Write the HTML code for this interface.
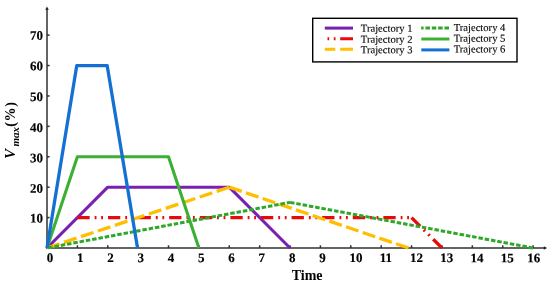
<!DOCTYPE html>
<html><head><meta charset="utf-8"><title>Trajectories</title>
<style>html,body{margin:0;padding:0;background:#fff}svg{display:block}text{font-family:"Liberation Serif","Times New Roman",serif;fill:#000}</style></head><body>
<svg width="550" height="286" viewBox="0 0 550 286">
<rect width="550" height="286" fill="#fff"/>
<g stroke="#303030" stroke-width="1.5" fill="none">
<line x1="47.0" y1="248.7" x2="47.0" y2="9"/>
<line x1="46.3" y1="248.0" x2="544" y2="248.0"/>
<line x1="77.38" y1="248.0" x2="77.38" y2="245.3"/>
<line x1="107.76" y1="248.0" x2="107.76" y2="245.3"/>
<line x1="138.14" y1="248.0" x2="138.14" y2="245.3"/>
<line x1="168.52" y1="248.0" x2="168.52" y2="245.3"/>
<line x1="198.90" y1="248.0" x2="198.90" y2="245.3"/>
<line x1="229.28" y1="248.0" x2="229.28" y2="245.3"/>
<line x1="259.66" y1="248.0" x2="259.66" y2="245.3"/>
<line x1="290.04" y1="248.0" x2="290.04" y2="245.3"/>
<line x1="320.42" y1="248.0" x2="320.42" y2="245.3"/>
<line x1="350.80" y1="248.0" x2="350.80" y2="245.3"/>
<line x1="381.18" y1="248.0" x2="381.18" y2="245.3"/>
<line x1="411.56" y1="248.0" x2="411.56" y2="245.3"/>
<line x1="441.94" y1="248.0" x2="441.94" y2="245.3"/>
<line x1="472.32" y1="248.0" x2="472.32" y2="245.3"/>
<line x1="502.70" y1="248.0" x2="502.70" y2="245.3"/>
<line x1="533.08" y1="248.0" x2="533.08" y2="245.3"/>
<line x1="47.0" y1="217.59" x2="49.6" y2="217.59"/>
<line x1="47.0" y1="187.18" x2="49.6" y2="187.18"/>
<line x1="47.0" y1="156.77" x2="49.6" y2="156.77"/>
<line x1="47.0" y1="126.36" x2="49.6" y2="126.36"/>
<line x1="47.0" y1="95.95" x2="49.6" y2="95.95"/>
<line x1="47.0" y1="65.54" x2="49.6" y2="65.54"/>
<line x1="47.0" y1="35.13" x2="49.6" y2="35.13"/>
</g>
<path d="M47.0 6.5 L45.2 9.8 L48.8 9.8 Z" fill="#222"/>
<path d="M547.2 248.0 L543.8 246.2 L543.8 249.8 Z" fill="#222"/>
<polyline points="47.00,248.00 107.76,187.18 229.28,187.18 290.04,248.00" fill="none" stroke="#7a1fb0" stroke-width="3.05" stroke-linejoin="round"/>
<polyline points="77.38,217.59 411.56,217.59" fill="none" stroke="#e60a0a" stroke-width="3.3" stroke-dasharray="12.3 5 1.8 4.7 1.8 5"/>
<polyline points="411.56,217.59 441.94,248.00" fill="none" stroke="#e60a0a" stroke-width="3.3" stroke-dasharray="12.3 5 1.8 4.7 1.8 5"/>
<polyline points="47.00,248.00 229.28,187.18" fill="none" stroke="#ffbe00" stroke-width="3.3" stroke-dasharray="13.2 4.69"/>
<polyline points="229.28,187.18 408.52,248.00" fill="none" stroke="#ffbe00" stroke-width="3.3" stroke-dasharray="13.2 4.41"/>
<polyline points="47.00,248.00 290.04,202.38" fill="none" stroke="#2fa829" stroke-width="3.0" stroke-dasharray="4.5 1.889" stroke-dashoffset="-1.2"/>
<polyline points="290.04,202.38 533.08,248.00" fill="none" stroke="#2fa829" stroke-width="3.0" stroke-dasharray="4.5 1.889"/>
<polyline points="47.00,248.00 77.38,156.77 168.52,156.77 198.90,248.00" fill="none" stroke="#3cb034" stroke-width="3.1" stroke-linejoin="round"/>
<polyline points="47.00,248.00 76.77,65.54 107.15,65.54 137.53,248.00" fill="none" stroke="#1470d2" stroke-width="3.3" stroke-linejoin="round"/>
<g font-size="13" font-weight="bold" stroke="#000" stroke-width="0.15" transform="matrix(1 0.0005 0 1 0 0)">
<text x="46.75" y="261.9">0</text>
<text x="77.02" y="261.9">1</text>
<text x="107.29" y="261.9">2</text>
<text x="137.56" y="261.9">3</text>
<text x="167.83" y="261.9">4</text>
<text x="198.10" y="261.9">5</text>
<text x="228.37" y="261.9">6</text>
<text x="258.64" y="261.9">7</text>
<text x="288.91" y="261.9">8</text>
<text x="319.18" y="261.9">9</text>
<text x="349.45" y="261.9">10</text>
<text x="379.72" y="261.9">11</text>
<text x="409.99" y="261.9">12</text>
<text x="440.26" y="261.9">13</text>
<text x="470.53" y="261.9">14</text>
<text x="500.80" y="261.9">15</text>
<text x="527.20" y="261.9">16</text>
</g>
<g font-size="13" font-weight="bold" text-anchor="end" stroke="#000" stroke-width="0.15" transform="matrix(1 0.0005 0 1 0 0)">
<text x="43.1" y="222.59">10</text>
<text x="43.1" y="192.68">20</text>
<text x="43.1" y="162.17">30</text>
<text x="43.1" y="131.86">40</text>
<text x="43.1" y="100.95">50</text>
<text x="43.1" y="70.24">60</text>
<text x="43.1" y="39.83">70</text>
</g>
<text x="307.1" y="280.4" font-size="14" font-weight="bold" text-anchor="middle">Time</text>
<g transform="translate(15.3,159) rotate(-90)" font-weight="bold"><text x="0" y="0" font-size="15.2" font-style="italic">V</text><text x="12.4" y="3.2" font-size="11" font-style="italic">max</text><text x="32.3" y="0" font-size="14" letter-spacing="0.6">(%)</text></g>
<rect x="312.7" y="18.3" width="204.3" height="43.6" fill="#fff" stroke="#000" stroke-width="1.4"/>
<g stroke-width="3" fill="none">
<line x1="324.8" x2="353" y1="28.1" y2="28.1" stroke="#7a1fb0"/>
<path d="M327.5 38.7h1.7M333.8 38.7h1.7M340.2 38.7H353" stroke="#e60a0a"/>
<path d="M324.8 49.3H335.3M340.2 49.3H353" stroke="#ffbe00"/>
<line x1="421.2" x2="449" y1="28.1" y2="28.1" stroke="#2fa829" stroke-dasharray="4.5 1.85" stroke-dashoffset="2.1"/>
<line x1="421.3" x2="449.4" y1="39.0" y2="39.0" stroke="#3cb034"/>
<line x1="421.3" x2="449.4" y1="49.9" y2="49.9" stroke="#1470d2"/>
</g>
<g font-size="10.6" transform="matrix(1 0.0005 0 1 0 0)" stroke="#000" stroke-width="0.12">
<text x="360.8" y="31.5">Trajectory 1</text>
<text x="453.7" y="30.7">Trajectory 4</text>
<text x="360.8" y="42.5">Trajectory 2</text>
<text x="453.7" y="41.5">Trajectory 5</text>
<text x="360.8" y="53.1">Trajectory 3</text>
<text x="453.7" y="52.3">Trajectory 6</text>
</g>
</svg></body></html>
